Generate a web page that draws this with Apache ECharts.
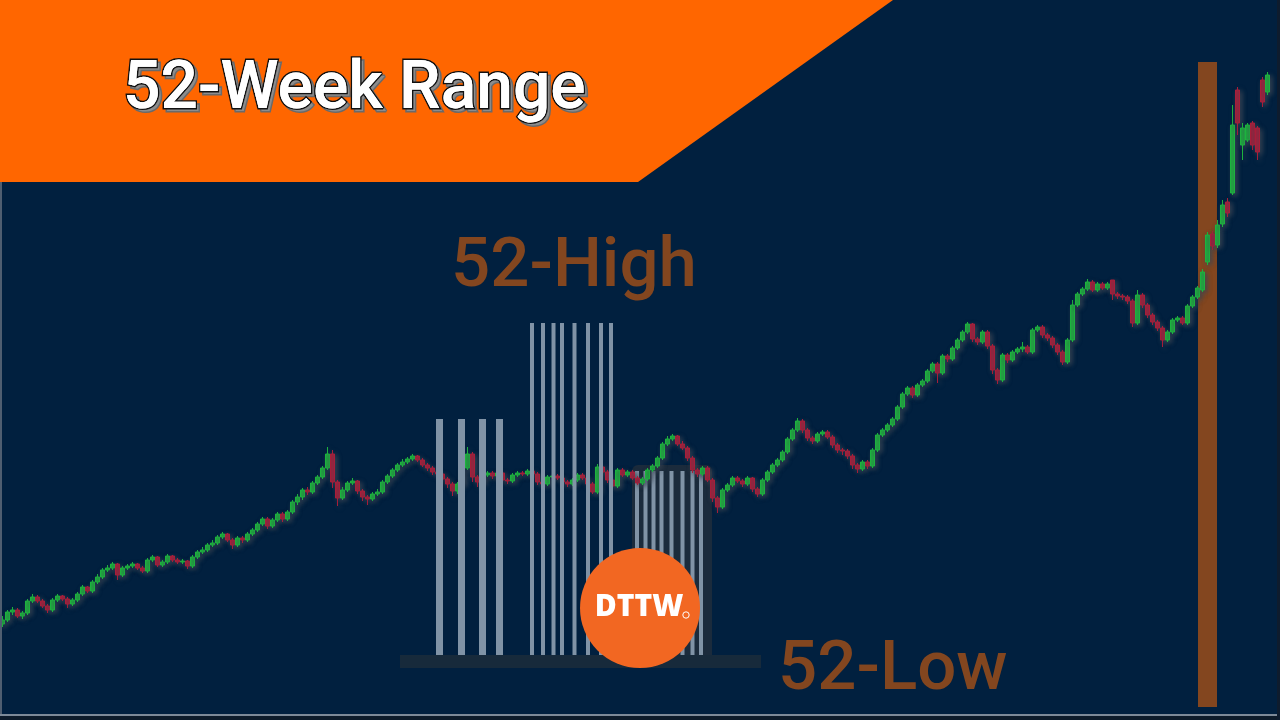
<!DOCTYPE html>
<html>
<head>
<meta charset="utf-8">
<script src="https://cdn.jsdelivr.net/npm/echarts@6/dist/echarts.min.js"></script>
<style>
html,body{margin:0;padding:0;background:#01203f;}
#chart{width:1280px;height:720px;}
</style>
</head>
<body>
<div id="chart"></div>
<script>
// ---- DATA ----
const titleText = '52-Week Range';
const highLabel = '52-High';
const lowLabel = '52-Low';
const logoText = 'DTTW';

// daily candles: [open, close, low, high]
const candles = [
[96,100,93,104],[100,108,98,110],[108,110,105,113],[110,104,102,112],[104,107,101,109],
[107,119,105,121],[119,123,117,126],[123,119,117,125],[119,114,112,121],[114,110,107,116],
[110,120,108,122],[120,124,118,126],[124,121,119,125],[121,116,112,123],[116,120,114,122],
[120,126,118,128],[126,133,124,135],[133,129,127,134],[129,138,127,140],[138,143,136,146],
[143,150,141,152],[150,152,148,155],[152,156,150,158],[156,145,140,157],[145,152,143,154],
[152,154,150,156],[154,156,152,158],[156,152,150,157],[152,149,147,154],[149,160,147,162],
[160,163,158,165],[163,155,153,164],[155,158,153,160],[158,164,156,166],[164,160,158,165],
[160,158,156,162],[158,159,156,161],[159,154,151,160],[154,163,152,165],[163,168,161,170],
[168,170,166,173],[170,175,168,177],[175,177,173,180],[177,183,175,185],[183,186,181,188],
[186,180,178,187],[180,175,171,182],[175,182,173,184],[182,180,177,184],[180,186,178,188],
[186,190,184,192],[190,196,188,198],[196,201,194,203],[201,194,191,203],[194,200,192,202],
[200,206,198,208],[206,201,198,208],[201,208,199,210],[208,218,206,220],[218,223,215,226],
[223,230,220,232],[230,228,225,233],[228,237,226,239],[237,243,235,245],[243,252,241,254],
[252,266,250,273],[266,238,232,270],[238,222,214,240],[222,230,220,233],[230,237,228,239],
[237,239,235,242],[239,229,226,240],[229,223,219,231],[223,221,215,225],[221,226,219,228],
[226,228,224,231],[228,238,226,240],[238,244,236,246],[244,250,242,252],[250,255,248,257],
[255,258,253,261],[258,261,256,263],[261,264,259,266],[264,260,258,265],[260,255,253,262],
[255,252,249,257],[252,248,245,254],[248,246,242,250],[246,241,238,248],[241,236,232,243],
[236,229,224,238],[229,236,226,238],[236,252,234,255],[252,266,250,273],[266,243,238,268],
[243,238,233,245],[238,245,236,247],[245,247,243,249],[247,244,241,249],[244,247,242,250],
[247,240,237,249],[240,239,236,242],[239,245,237,247],[245,247,243,249],[247,246,244,249],
[246,249,244,251],[249,246,244,251],[246,238,235,248],[238,236,233,240],[236,243,234,245],
[243,244,241,246],[244,242,240,246],[242,238,235,244],[238,236,233,240],[236,240,234,242],
[240,245,238,247],[245,242,240,247],[242,236,234,244],[236,228,226,238],[228,253,226,256],
[253,248,246,256],[248,240,237,250],[240,234,231,242],[234,250,232,252],[250,245,243,252],
[245,248,243,250],[248,242,240,250],[242,237,235,244],[237,241,235,243],[241,250,239,252],
[250,254,248,256],[254,262,252,264],[262,276,260,278],[276,281,274,284],[281,284,279,286],
[284,276,274,285],[276,272,270,279],[272,262,259,274],[262,250,247,264],[250,246,243,252],
[246,252,244,254],[252,240,238,254],[240,222,218,242],[222,213,207,224],[213,230,211,232],
[230,235,228,237],[235,242,233,244],[242,239,237,244],[239,236,233,241],[236,242,234,244],
[242,231,228,243],[231,226,223,233],[226,240,224,242],[240,248,238,250],[248,255,246,257],
[255,260,253,262],[260,268,258,270],[268,281,266,283],[281,290,279,292],[290,299,288,302],
[299,290,287,301],[290,282,279,292],[282,279,276,284],[279,286,277,288],[286,288,284,290],
[288,283,281,290],[283,275,272,285],[275,270,267,277],[270,269,265,272],[269,264,261,271],
[264,255,251,266],[255,251,247,257],[251,258,249,260],[258,254,251,260],[254,270,252,272],
[270,285,268,287],[285,290,283,292],[290,295,288,297],[295,301,293,303],[301,313,299,315],
[313,326,311,328],[326,332,324,334],[332,325,322,334],[325,335,323,337],[335,339,333,341],
[339,349,337,351],[349,356,347,358],[356,347,337,358],[347,364,345,366],[364,361,358,366],
[361,372,359,374],[372,380,370,382],[380,388,378,390],[388,396,386,398],[396,381,378,397],
[381,378,375,383],[378,388,376,390],[388,374,371,390],[374,350,346,376],[350,340,336,352],
[340,365,338,367],[365,360,357,367],[360,368,358,370],[368,371,366,373],[371,373,368,378],
[373,368,366,375],[368,390,366,392],[390,393,388,395],[393,385,382,395],[385,382,379,387],
[382,375,372,384],[375,368,365,377],[368,358,355,370],[358,380,356,382],[380,415,378,420],
[415,426,413,428],[426,431,424,433],[431,438,429,441],[438,430,428,440],[430,436,428,438],
[436,432,430,438],[432,436,430,438],[440,426,420,440],[426,424,421,428],[424,423,420,426],
[423,419,416,425],[419,397,393,421],[397,425,395,430],[425,415,412,427],[415,405,402,417],
[405,398,395,407],[398,392,389,400],[392,380,373,394],[380,388,378,390],[388,400,386,402],
[400,402,398,404],[402,397,395,404],[397,414,395,416],[414,423,412,425],[423,432,421,434],
[430,448,428,451],[458,485,455,488],[486,474,470,489],[475,495,472,500],[496,515,493,520],
[518,507,503,522],[527,595,525,615],[630,597,585,633],[575,592,560,597],[580,595,578,597],
[597,575,570,599],[592,568,560,594],[640,618,613,643],[628,645,625,648]
];
const days = candles.map((_, i) => 'D' + (i + 1));

// decorative bar-chart icon: [position, height]
const barsLeft  = [[439.5,236],[461.5,236],[482.5,236],[499.5,236]];
const barsMid   = [[532,332],[543,332],[553.5,332],[562,332],[574.5,332],[588,332],[601,332],[611,332]];
const barsRight = [[637,184],[645.5,184],[653.5,184],[661.5,184],[671.5,184],[682.5,184],[692.5,184],[701,184]];

// ---- CHART ----
const chart = echarts.init(document.getElementById('chart'), null, {renderer:'canvas'});
const BROWN = '#83461f';
const GRAY = '#8093a6';

function textPair(txt, x, y, size) {
  const f = '500 ' + size + 'px Roboto';
  return [
    {type:'text', x:x+3, y:y+3, z:10, style:{text:txt, font:f, fill:'#8c8c8c', stroke:'#6a6a6a', lineWidth:3, textAlign:'left', textVerticalAlign:'middle'}},
    {type:'text', x:x, y:y, z:11, style:{text:txt, font:f, fill:'#ffffff', stroke:'#111111', lineWidth:3, textAlign:'left', textVerticalAlign:'middle'}},
    {type:'text', x:x, y:y, z:12, style:{text:txt, font:f, fill:'#ffffff', textAlign:'left', textVerticalAlign:'middle'}}
  ];
}

const option = {
  backgroundColor: '#01203f',
  animation: false,
  grid: [
    {left:0, right:10, top:0, bottom:0},
    {left:0, right:0, top:0, bottom:65}
  ],
  xAxis: [
    {type:'category', data:days, gridIndex:0, boundaryGap:true, show:false},
    {type:'value', min:0, max:1280, gridIndex:1, show:false},
    {type:'value', min:0, max:1280, gridIndex:1, show:false},
    {type:'value', min:0, max:1280, gridIndex:1, show:false}
  ],
  yAxis: [
    {type:'value', min:0, max:720, gridIndex:0, show:false, splitLine:{show:false}},
    {type:'value', min:0, max:655, gridIndex:1, show:false, splitLine:{show:false}}
  ],
  series: [
    {
      type:'bar', xAxisIndex:3, yAxisIndex:1, data:barsRight, barWidth:4, z:1,
      itemStyle:{color:GRAY}, silent:true
    },
    {
      type:'candlestick', xAxisIndex:0, yAxisIndex:0, data:candles, barWidth:4, z:3,
      itemStyle:{
        color:'#1db33e', color0:'#a81e3a', borderColor:'#1db33e', borderColor0:'#a81e3a', borderWidth:1,
        shadowColor:'rgba(60,70,85,1)', shadowBlur:5, shadowOffsetX:2, shadowOffsetY:2
      }
    },
    {
      type:'bar', xAxisIndex:1, yAxisIndex:1, data:barsLeft, barWidth:7, z:5,
      itemStyle:{color:GRAY}, silent:true
    },
    {
      type:'bar', xAxisIndex:2, yAxisIndex:1, data:barsMid, barWidth:4, z:5,
      itemStyle:{color:GRAY}, silent:true
    }
  ],
  graphic: [
    {type:'polygon', z:0, shape:{points:[[0,0],[893,0],[638,182],[0,182]]}, style:{fill:'#ff6600'}},
    {type:'rect', z:0, shape:{x:1198, y:62, width:19, height:645}, style:{fill:'#83461f'}},
    {type:'rect', z:0, shape:{x:632, y:465, width:80, height:192, r:[6,6,0,0]}, style:{fill:'#1b2b3c'}},
    {type:'rect', z:6, shape:{x:400, y:655, width:361, height:13}, style:{fill:'#172a3b'}},
    {type:'text', x:451, y:269, z:10, style:{text:highLabel, font:'500 69px Roboto', fill:BROWN, textAlign:'left', textVerticalAlign:'middle'}},
    {type:'text', x:778, y:672, z:10, style:{text:lowLabel, font:'500 69px Roboto', fill:BROWN, textAlign:'left', textVerticalAlign:'middle'}},
    ...textPair(titleText, 123, 91, 66),
    {type:'circle', z:20, shape:{cx:640, cy:608, r:60}, style:{fill:'#f26722'}},
    {type:'text', x:639, y:607, z:21, style:{text:logoText, font:'800 30px "Open Sans"', fill:'#ffffff', textAlign:'center', textVerticalAlign:'middle'}},
    {type:'circle', z:21, shape:{cx:686, cy:615, r:3.2}, style:{fill:'none', stroke:'#ffffff', lineWidth:1}},
    {type:'rect', z:30, shape:{x:0, y:182, width:2, height:538}, style:{fill:'#4f5e70'}},
    {type:'rect', z:30, shape:{x:0, y:714, width:1280, height:2}, style:{fill:'#7d8a98'}},
    {type:'rect', z:30, shape:{x:0, y:716, width:1280, height:4}, style:{fill:'#0d1b2a'}},
    {type:'rect', z:30, shape:{x:1277, y:0, width:3, height:720}, style:{fill:'#0e1c2e'}}
  ]
};
chart.setOption(option);
</script>
</body>
</html>
